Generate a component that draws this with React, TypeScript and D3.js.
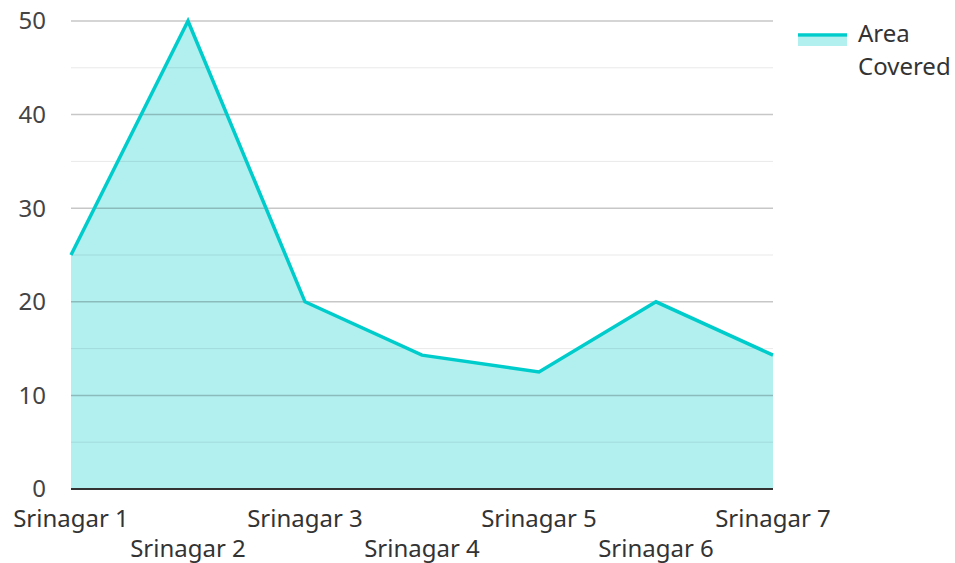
import React from 'react';
import * as d3 from 'd3';

const categories = ['Srinagar 1', 'Srinagar 2', 'Srinagar 3', 'Srinagar 4', 'Srinagar 5', 'Srinagar 6', 'Srinagar 7'];
const areaCovered = [25, 50, 20, 14.3, 12.5, 20, 14.3];
const majorTicks = [0, 10, 20, 30, 40, 50];
const minorTicks = [5, 15, 25, 35, 45];
const seriesName = ['Area', 'Covered'];

const W = 955;
const H = 563;
const margin = { top: 21, right: 182, bottom: 74, left: 71 };
const font = '"Noto Sans", "Open Sans", sans-serif';

export default function App() {
  const innerW = W - margin.left - margin.right;
  const innerH = H - margin.top - margin.bottom;

  const x = d3.scalePoint<string>().domain(categories).range([0, innerW]);
  const y = d3.scaleLinear().domain([0, 50]).range([innerH, 0]);

  const area = d3.area<number>()
    .x((_, i) => x(categories[i])!)
    .y0(innerH)
    .y1(d => y(d));
  const line = d3.line<number>()
    .x((_, i) => x(categories[i])!)
    .y(d => y(d));

  return (
    <svg width={W} height={H} style={{ position: 'absolute', left: 0, top: 0, fontFamily: font }}>
      <g transform={`translate(${margin.left},${margin.top})`}>
        <path d={area(areaCovered)!} fill="#00cccc" fillOpacity={0.3} />
        {minorTicks.map(t => (
          <line key={'m' + t} x1={0} x2={innerW} y1={y(t)} y2={y(t)} stroke="#000" strokeOpacity={0.09} strokeWidth={1} />
        ))}
        {majorTicks.filter(t => t > 0).map(t => (
          <line key={'g' + t} x1={0} x2={innerW} y1={y(t)} y2={y(t)} stroke="#000" strokeOpacity={0.22} strokeWidth={1.5} />
        ))}
        {majorTicks.map(t => (
          <text key={'t' + t} x={-25} y={y(t)} dy="0.35em" textAnchor="end" fontSize={24} fill="#444">{t}</text>
        ))}
        <path d={line(areaCovered)!} fill="none" stroke="#00cccc" strokeWidth={3.5} strokeLinejoin="miter" />
        <line x1={0} x2={innerW} y1={innerH} y2={innerH} stroke="#333" strokeWidth={2} />
        {categories.map((c, i) => (
          <text key={c} x={x(c)!} y={innerH + (i % 2 === 0 ? 38 : 68)} textAnchor="middle" fontSize={24} fill="#333">{c}</text>
        ))}
      </g>
      <g transform="translate(798,30)">
        <rect x={0} y={7} width={49} height={9} fill="#00cccc" fillOpacity={0.3} />
        <line x1={0} x2={49} y1={5} y2={5} stroke="#00cccc" strokeWidth={3.5} />
        {seriesName.map((s, i) => (
          <text key={s} x={60} y={12 + i * 33} fontSize={24} fill="#333">{s}</text>
        ))}
      </g>
    </svg>
  );
}
